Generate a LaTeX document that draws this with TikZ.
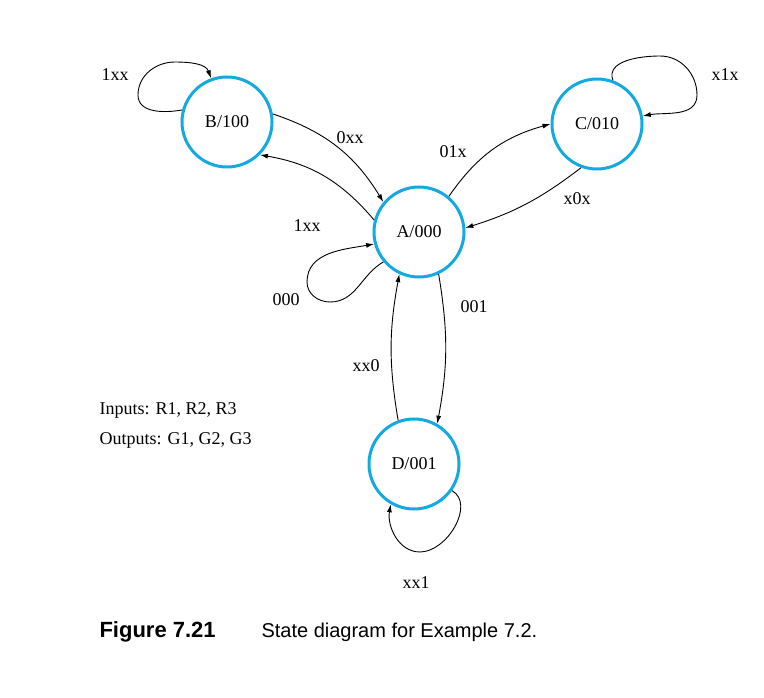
\documentclass[tikz,border=0pt]{standalone}
\usepackage{fontspec}
\setmainfont{Liberation Serif}
\newfontfamily\capfont{Liberation Sans}
\usetikzlibrary{arrows.meta}
\definecolor{cy}{RGB}{20,170,225}
\begin{document}
\begin{tikzpicture}[x=1pt,y=-1pt,
  st/.style={circle,draw=cy,line width=3pt,minimum size=90pt,inner sep=0pt,font=\fontsize{18}{20}\selectfont},
  ed/.style={-{Latex[length=8pt,width=5pt]},line width=0.9pt},
  lb/.style={font=\fontsize{18}{20}\selectfont}]
\useasboundingbox (0,0) rectangle (764,698);
\node[st] (B) at (227,122) {B/100};
\node[st] (C) at (597,124) {C/010};
\node[st] (A) at (419,232) {A/000};
\node[st] (D) at (414,464) {D/001};
\draw[ed] (B.10) to[bend left=20] (A.140);
\draw[ed] (A.165) to[bend left=-20] (B.-45);
\draw[ed] (A.50) to[bend left=20] (C.180);
\draw[ed] (C.-110) to[bend left=10] (A.5);
\draw[ed] (A.-65) to[bend left=10] (D.60);
\draw[ed] (D.110) to[bend left=10] (A.-115);
\draw[ed] (B.165) to[out=190,in=-90] (138,95) to[out=90,in=180] (175,62) to[out=0,in=110] (B.110);
\draw[ed] (C.70) to[out=110,in=180] (660,56) to[out=0,in=90] (697,95) to[out=-90,in=10] (C.10);
\draw[ed] (A.-140) to[out=210,in=0] (330,302) to[out=180,in=-90] (307,282) to[out=90,in=190] (A.-165);
\draw[ed] (D.-35) to[out=-30,in=0] (420,552) to[out=180,in=-100] (D.-120);
\node[lb] (l1) at (115,75) {1xx};
\node[lb] (l2) at (350,138) {0xx};
\node[lb] (l3) at (453,152) {01x};
\node[lb] (l4) at (725,75) {x1x};
\node[lb] (l5) at (577,199) {x0x};
\node[lb] (l6) at (307,226) {1xx};
\node[lb] (l7) at (286,300) {000};
\node[lb] (l8) at (474,307) {001};
\node[lb] (l9) at (366,366) {xx0};
\node[lb] (l10) at (416,583) {xx1};
\node[lb,anchor=west] (in) at (96,410) {Inputs: R1, R2, R3};
\node[lb,anchor=west] (out) at (96,440) {Outputs: G1, G2, G3};
\node[anchor=west,font=\capfont\bfseries\fontsize{22}{24}\selectfont] (f) at (96,632) {Figure 7.21};
\node[anchor=west,font=\capfont\fontsize{20}{23}\selectfont] (c) at (258,632) {State diagram for Example 7.2.};
\end{tikzpicture}
\end{document}
